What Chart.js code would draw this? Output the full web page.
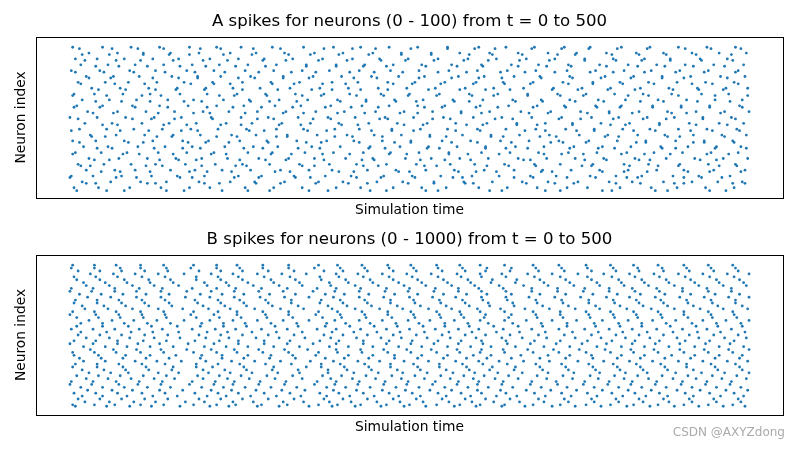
<!DOCTYPE html>
<html>
<head>
<meta charset="utf-8">
<script src="https://cdn.jsdelivr.net/npm/chart.js@4"></script>
<style>
body { margin: 0; background: #fff; width: 800px; height: 450px; position: relative; overflow: hidden; }
.box { position: absolute; left: 0; width: 800px; }
#mark { position: absolute; right: 15px; top: 425px; font: 12px "DejaVu Sans"; color: #aaa; }
</style>
</head>
<body>
<div class="box" style="top:0;height:225px"><canvas id="chartA"></canvas></div>
<div class="box" style="top:218px;height:232px"><canvas id="chartB"></canvas></div>
<div id="mark">CSDN @AXYZdong</div>
<script>
// Spike times (a hand-picked subset per neuron row)
const neuronsA = [0, 2, 5, 6, 9, 10, 13, 14, 17, 18, 21, 22, 25, 26, 29, 30, 33, 34, 37, 38, 41, 42, 45, 46, 49,
                  50, 53, 54, 57, 58, 61, 62, 65, 66, 69, 70, 73, 74, 77, 78, 81, 82, 85, 86, 89, 90, 93, 94, 97, 98];
const spikesA = [
  "5 27 40 71 84 112 131 147 176 190 221 233 262 271 309 318 350 361 392 399 431 440 471 483",
  "3 21 44 67 88 103 129 150 171 196 214 238 259 277 301 322 344 366 381 405 428 447 468 489",
  "12 19 57 63 99 110 137 155 181 205 219 249 268 291 297 336 357 371 402 420 445 452 488 497",
  "9 30 52 71 95 118 136 158 183 201 226 245 268 290 311 333 352 374 397 414 437 458 477 495",
  "0 34 49 81 90 121 139 166 177 211 229 254 282 289 327 341 366 387 410 418 452 465 480",
  "1 17 38 60 79 99 124 141 165 188 207 231 252 273 296 316 339 358 383 402 421 444 463 486",
  "23 37 59 88 101 119 151 162 198 209 242 250 286 299 314 347 355 392 408 425 455 471 494",
  "12 33 48 74 92 112 133 155 176 193 219 240 262 283 305 327 348 369 390 411 432 452 474 497",
  "8 15 56 68 97 122 130 171 180 216 227 261 270 307 323 343 377 384 412 433 448 478 491",
  "6 25 45 63 85 107 127 147 169 191 211 233 255 280 298 320 342 361 385 408 426 449 470 490",
  "18 29 66 80 93 125 144 159 187 215 224 258 276 295 334 339 379 395 419 427 464 476",
  "14 36 57 78 97 116 139 161 180 203 223 247 266 287 308 330 351 372 393 416 439 460 481 499",
  "2 39 51 76 104 115 148 163 186 206 235 248 279 293 316 349 362 378 406 423 442 469 485",
  "4 23 42 65 86 106 131 149 173 194 216 236 257 279 303 324 345 367 388 410 430 451 472 492",
  "20 31 62 83 96 128 142 168 184 220 232 263 272 306 321 337 368 389 401 436 446 475 498",
  "10 28 50 70 90 114 135 153 178 199 221 243 264 285 306 328 349 371 392 413 435 455 476 494",
  "7 43 54 87 100 117 146 174 185 213 239 251 281 300 325 354 363 380 417 424 459 467 489",
  "2 19 40 61 83 102 125 145 167 189 209 230 251 274 295 317 338 360 382 403 424 446 467 488",
  "16 26 64 75 108 123 152 160 195 208 230 265 277 310 319 346 358 394 404 440 449 482",
  "15 34 55 76 96 119 137 160 182 204 224 244 265 289 310 331 353 375 396 418 438 459 480 498",
  "1 37 58 82 94 132 143 175 189 222 237 253 284 302 335 350 373 386 415 431 457 473 493",
  "7 27 47 68 89 109 130 152 172 195 213 237 258 278 300 321 343 365 386 407 427 448 469 491",
  "24 35 69 86 111 126 154 170 200 212 246 260 292 304 329 344 370 398 409 434 461 484",
  "11 31 53 73 93 115 134 156 177 198 220 241 263 284 307 329 350 370 391 412 434 456 478 496",
  "6 46 60 77 105 138 150 179 192 228 234 267 280 313 326 360 376 400 422 439 466 490",
  "0 20 41 62 82 104 126 146 168 190 210 232 253 275 297 318 340 362 384 404 425 445 466 487",
  "17 32 65 91 103 129 157 172 197 217 243 256 288 303 338 352 381 397 414 443 454 479",
  "13 35 56 77 98 117 138 159 181 202 225 246 267 288 309 332 354 376 397 419 440 461 482 500",
  "3 22 48 72 101 120 141 164 188 207 227 261 274 299 315 341 365 388 405 429 450 471 495",
  "5 24 46 66 87 108 128 151 170 192 215 235 256 276 302 323 344 364 387 406 429 450 471 493",
  "19 38 59 84 97 133 147 167 199 218 240 255 283 294 328 348 372 393 420 437 462 486",
  "9 29 49 72 91 113 132 154 175 197 218 239 260 282 304 326 347 368 389 409 433 454 475 495",
  "2 27 53 67 110 121 145 171 185 211 231 249 270 296 312 337 361 378 411 426 448 475 499",
  "3 18 39 59 81 101 123 144 166 187 206 229 250 272 294 315 337 359 380 401 422 443 465 485",
  "21 41 63 78 99 127 153 178 193 214 234 264 287 306 324 355 374 396 416 444 463 481",
  "16 37 58 79 100 120 140 162 184 205 227 248 269 291 312 334 356 377 398 420 441 462 483 499",
  "8 33 55 89 106 118 149 165 186 203 238 252 273 297 320 339 367 385 407 430 458 473 492",
  "6 26 43 64 84 105 127 148 169 193 212 234 254 276 299 319 341 363 385 405 426 447 468 489",
  "14 30 61 80 94 124 136 157 176 209 226 257 281 301 318 347 370 391 413 436 452 484",
  "12 32 51 75 94 111 133 157 179 200 222 242 261 286 305 327 346 368 394 415 436 457 479 497",
  "4 25 47 70 92 114 139 163 181 206 224 245 271 292 317 335 357 383 400 423 446 467 490",
  "1 22 44 63 86 106 129 150 171 191 213 236 257 279 300 322 343 366 387 408 428 449 470 492",
  "19 36 57 81 100 122 144 174 196 216 233 262 285 304 330 351 369 395 418 438 459 482",
  "8 28 48 69 90 110 131 152 174 196 217 238 259 281 303 325 345 367 390 411 432 453 474 496",
  "11 34 52 76 98 116 142 159 183 204 229 247 268 290 308 331 353 379 402 421 442 465 488",
  "4 20 40 61 80 103 124 143 164 186 208 228 249 271 293 314 336 357 379 400 423 442 464 484",
  "9 29 54 73 88 113 134 161 177 198 220 244 266 294 311 333 359 372 399 419 439 461 487",
  "14 35 54 74 95 118 137 158 180 201 223 244 266 287 309 330 352 373 395 417 437 458 478 498",
  "7 31 50 69 96 111 135 155 187 208 225 251 278 298 313 340 362 382 403 425 453 472 494",
  "2 24 45 66 88 108 126 149 172 194 214 235 256 278 301 321 342 364 383 406 427 448 469 490"
];
const neuronsB = [10, 20, 40, 60, 80, 100, 120, 140, 160, 180, 200, 220, 240, 260, 280, 300, 320, 340, 360, 380, 400, 420, 440, 460, 480,
                  500, 520, 540, 560, 580, 600, 620, 640, 660, 680, 700, 720, 740, 760, 780, 800, 820, 840, 860, 880, 900, 920, 940, 960, 980];
const spikesB = [
  "4 27 44 60 81 103 117 138 154 176 193 210 229 246 262 283 299 318 335 355 372 391 410 427 445 463 481 497",
  "2 18 33 52 69 91 108 122 141 160 183 197 214 233 250 270 287 302 320 341 361 380 398 415 433 452 470 488",
  "11 29 47 63 85 99 120 135 157 172 191 207 226 243 260 279 296 312 331 349 367 386 404 422 441 458 476 494",
  "6 22 38 55 72 95 111 127 146 165 187 201 219 238 255 274 291 306 324 345 364 384 402 419 437 456 474 492",
  "9 24 42 61 79 101 115 133 152 170 189 206 224 242 258 277 295 314 329 350 369 388 407 424 440 459 479 496",
  "3 19 35 53 70 92 109 124 143 162 184 198 216 235 252 271 288 303 321 342 362 381 399 416 434 453 471 489",
  "13 31 46 66 83 104 119 137 156 173 194 211 230 247 265 281 300 317 336 354 373 392 411 428 447 464 483 499",
  "8 24 40 57 74 97 113 129 148 167 189 203 221 240 257 276 293 308 326 347 366 386 404 421 439 458 476 494",
  "0 16 36 50 67 88 106 120 139 158 180 195 212 231 248 267 285 300 318 339 359 378 396 413 431 450 468 486",
  "1 17 34 51 68 90 107 121 140 159 182 196 213 232 249 269 286 301 319 340 358 379 397 414 432 451 469 487",
  "12 28 45 62 77 98 116 132 151 171 192 208 225 244 261 280 297 313 330 351 370 389 408 426 444 461 480 498",
  "5 21 37 54 71 94 110 126 145 164 186 200 218 237 254 273 290 305 323 344 363 383 401 418 436 455 473 491",
  "14 30 43 65 80 102 118 134 153 169 190 209 227 245 263 282 298 315 333 352 371 390 409 425 446 465 482 500",
  "9 25 41 58 75 98 114 130 149 168 190 204 222 241 258 277 294 309 327 348 367 387 405 422 440 459 477 495",
  "2 20 39 56 76 93 105 128 150 174 185 202 220 236 256 272 292 311 328 346 365 385 403 420 438 454 475 493",
  "4 20 36 53 70 93 109 125 144 163 185 199 217 236 253 272 289 304 322 343 362 382 400 417 435 454 472 490",
  "10 26 48 64 82 100 119 136 155 177 194 212 228 246 264 284 301 316 334 353 374 393 412 429 448 466 484 499",
  "7 23 39 56 73 96 112 128 147 166 188 202 220 239 256 275 292 307 325 346 365 385 403 420 438 457 475 493",
  "3 21 41 59 78 97 112 131 148 164 181 205 223 239 259 278 297 310 332 352 368 384 406 423 443 460 478 495",
  "2 18 34 52 69 91 108 123 142 161 183 197 215 234 251 270 287 302 320 341 360 380 398 415 433 452 470 488",
  "15 32 49 67 86 104 121 139 158 175 196 214 231 248 266 285 303 319 337 356 375 394 413 430 449 467 485 500",
  "10 26 42 59 76 99 115 131 150 169 191 205 223 242 259 278 295 310 328 349 368 388 406 423 441 460 478 496",
  "0 17 35 50 66 87 106 124 143 160 179 196 216 233 251 268 286 304 322 339 358 377 395 414 431 449 468 486",
  "3 19 35 54 71 92 110 124 143 162 184 198 216 235 252 271 288 303 321 342 361 381 399 416 434 453 471 489",
  "12 29 44 62 81 100 117 137 154 173 192 211 229 244 263 280 299 318 333 351 372 391 409 427 447 463 482 498",
  "6 22 38 55 72 95 111 127 146 165 187 201 219 238 255 274 291 306 324 345 364 384 402 419 437 456 474 492",
  "8 27 45 61 80 101 116 134 152 171 193 209 226 243 261 279 296 314 331 350 370 389 407 425 444 462 479 497",
  "1 17 33 51 68 90 107 122 141 160 182 196 214 233 250 269 286 301 319 340 360 379 397 414 432 451 469 487",
  "5 24 43 60 79 96 113 130 151 168 188 206 224 241 260 276 294 312 330 348 366 387 405 421 442 461 477 495",
  "8 24 40 57 74 97 113 129 148 167 189 203 221 240 257 276 293 308 326 347 366 386 404 421 439 458 476 494",
  "14 31 47 64 84 103 120 138 157 176 195 213 230 249 265 283 302 320 336 355 373 392 411 429 446 466 483 500",
  "5 21 37 54 71 93 110 126 145 164 186 200 218 237 254 273 290 305 323 344 363 383 401 418 436 455 473 491",
  "0 19 36 53 70 89 106 123 144 161 181 199 217 234 253 272 288 306 325 343 361 382 400 417 435 452 472 489",
  "2 18 34 52 69 91 109 123 142 161 183 197 215 234 251 270 287 302 320 341 361 380 398 415 433 452 470 488",
  "11 28 46 65 83 102 118 136 155 172 193 210 228 245 264 281 300 317 335 353 372 390 410 428 445 464 481 499",
  "9 25 41 58 75 98 114 130 149 168 190 204 222 241 258 277 294 309 327 348 367 387 405 422 440 459 477 495",
  "3 20 38 55 73 94 111 128 146 163 184 201 219 236 254 273 291 308 326 344 363 382 401 419 437 455 473 490",
  "4 20 36 53 70 92 109 125 144 163 185 199 217 236 253 272 289 304 322 343 362 382 400 417 435 454 472 490",
  "13 30 49 67 85 103 121 140 158 176 194 213 231 250 267 284 303 321 338 357 376 395 412 431 449 467 485 500",
  "7 23 39 56 73 96 112 128 147 166 188 202 220 239 256 275 292 307 325 346 365 385 403 420 438 457 475 493",
  "0 16 33 49 67 86 104 121 139 157 179 195 213 232 249 268 286 303 321 340 359 378 397 416 434 451 470 487",
  "1 17 33 51 68 90 108 122 141 160 182 196 214 233 250 269 286 301 319 340 359 379 397 414 432 451 469 487",
  "12 29 46 62 80 101 117 135 154 171 192 210 227 246 262 281 298 316 334 352 371 390 408 426 445 463 481 498",
  "10 26 42 59 76 99 115 131 150 169 191 205 223 242 259 278 295 310 328 349 368 388 406 423 441 460 478 496",
  "5 22 40 58 74 93 111 127 148 166 185 203 221 238 256 275 293 311 329 346 365 384 404 421 439 457 476 493",
  "3 19 35 53 70 93 109 124 143 162 184 198 216 235 252 271 288 303 321 342 361 381 399 416 434 453 471 489",
  "15 32 48 65 84 104 120 138 156 174 196 212 230 248 266 285 302 318 337 355 374 393 412 430 448 466 484 500",
  "6 22 38 55 72 95 111 127 146 165 187 201 219 238 255 274 291 306 324 345 364 384 402 419 437 456 474 492",
  "1 18 37 52 71 89 108 125 142 161 180 199 217 235 253 271 289 307 325 343 362 381 400 418 436 454 472 490",
  "2 18 34 52 69 91 108 123 142 161 183 197 215 234 251 270 287 302 320 341 360 380 398 415 433 452 470 488"
];

function toPoints(neurons, spikes) {
  const pts = [];
  neurons.forEach((n, i) => {
    spikes[i].split(' ').forEach(t => pts.push({ x: +t, y: n }));
  });
  return pts;
}

// рамка и подписи в стиле matplotlib
const framePlugin = {
  id: 'frame',
  afterDraw(c, args, opts) {
    const ctx = c.ctx, a = c.chartArea;
    ctx.save();
    ctx.strokeStyle = '#000';
    ctx.lineWidth = 1;
    ctx.strokeRect(Math.round(a.left) + 0.5, Math.round(a.top) + 0.5, Math.round(a.right - a.left), Math.round(a.bottom - a.top));
    ctx.fillStyle = '#000';
    ctx.textAlign = 'center';
    ctx.textBaseline = 'middle';
    ctx.font = '16.6px "DejaVu Sans"';
    ctx.fillText(opts.title, (a.left + a.right) / 2, 22);
    ctx.font = '13.8px "DejaVu Sans"';
    ctx.fillText('Simulation time', (a.left + a.right) / 2, a.bottom + 12);
    ctx.translate(21, (a.top + a.bottom) / 2);
    ctx.rotate(-Math.PI / 2);
    ctx.fillText('Neuron index', 0, 0);
    ctx.restore();
  }
};

function makeChart(id, pts, ymax, title, bottomPad) {
  new Chart(document.getElementById(id), {
    type: 'scatter',
    data: { datasets: [{ data: pts, backgroundColor: '#1f77b4', borderWidth: 0, pointRadius: 1.4 }] },
    options: {
      responsive: true,
      maintainAspectRatio: false,
      animation: false,
      layout: { padding: { left: 36, right: 17, top: 37, bottom: bottomPad } },
      scales: {
        x: { display: false, min: -25, max: 525 },
        y: { display: false, min: -0.05 * ymax, max: 1.05 * ymax }
      },
      plugins: { legend: { display: false }, tooltip: { enabled: false }, frame: { title: title } }
    },
    plugins: [framePlugin]
  });
}

makeChart('chartA', toPoints(neuronsA, spikesA), 100, 'A spikes for neurons (0 - 100) from t = 0 to 500', 27);
makeChart('chartB', toPoints(neuronsB, spikesB), 1000, 'B spikes for neurons (0 - 1000) from t = 0 to 500', 35);
</script>
</body>
</html>
